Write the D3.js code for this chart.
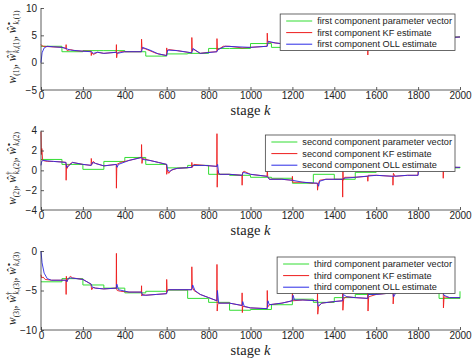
<!DOCTYPE html>
<html>
<head>
<meta charset="utf-8">
<script src="https://cdn.jsdelivr.net/npm/d3@7"></script>
<style>
  body { margin: 0; background: #fff; }
  .tick text { font-family: "Liberation Sans", Arial, sans-serif; font-size: 10px; fill: #222; }
  .axisLabel { font-family: "Liberation Serif", "Times New Roman", serif; fill: #222; }
  .legendText { font-family: "Liberation Sans", Arial, sans-serif; font-size: 9.2px; fill: #222; }
</style>
</head>
<body>
<div id="chart"></div>
<script>
// DATA - values

const stepK = [0,100,200,300,400,500,600,700,800,900,1000,1100,1200,1300,1400,1500,1600,1700,1800,1900,2000];

// component 1
const param1 = [3.0,2.0,2.2,2.2,2.0,1.2,1.6,1.7,2.6,2.6,3.5,2.8,3.6,4.0,3.2,3.8,4.2,4.6,3.6,4.7,4.7];
const kf1 = [[0,3.3],[2,3.2],[10,3.0],[50,2.9],[100,2.8],[119,2.6],[120,3.3],[121,2.4],[125,2.2],[140,2.4],[160,2.2],[200,2.1],[239,2.1],[240,1.3],[242,1.8],[250,1.5],[270,1.9],[300,1.7],[330,1.8],[359,1.9],[360,3.3],[361,0.9],[364,1.8],[380,2.0],[420,2.0],[479,2.0],[480,4.3],[482,2.7],[500,2.5],[550,1.7],[599,1.3],[600,2.7],[602,2.1],[610,2.4],[650,2.2],[700,1.9],[719,1.8],[720,4.6],[722,2.2],[730,2.4],[760,1.7],[800,1.9],[839,2.0],[840,4.4],[842,2.3],[870,3.0],[900,3.0],[960,2.7],[1000,2.8],[1079,3.0],[1080,5.4],[1082,3.8],[1100,3.7],[1140,3.5],[1200,3.3],[1300,3.5],[1400,3.7],[1500,3.9],[1559,3.8],[1560,1.4],[1562,3.6],[1600,4.0],[1700,4.3],[1800,4.2],[1900,4.5],[2000,4.7]];
const oll1 = [[0,0.0],[5,1.8],[15,2.7],[30,3.0],[60,2.9],[100,2.8],[120,2.6],[125,2.5],[140,2.3],[200,2.1],[240,2.0],[250,1.7],[270,1.9],[300,1.7],[360,1.9],[365,1.7],[400,2.0],[480,2.0],[485,2.8],[520,2.3],[560,1.6],[600,1.3],[605,2.3],[650,2.2],[720,1.8],[725,2.6],[760,1.7],[840,2.0],[845,2.4],[880,3.0],[1000,2.8],[1080,3.0],[1085,3.9],[1120,3.6],[1200,3.3],[1300,3.5],[1400,3.7],[1500,3.9],[1600,4.0],[1700,4.3],[1800,4.2],[1900,4.5],[2000,4.7]];

// component 2
const param2 = [1.1,0.6,0.1,0.9,1.3,0.6,0.25,0.5,-0.4,-0.5,-0.7,-0.8,-1.3,-0.4,-0.9,-0.2,-0.1,0.1,0.4,0.25,0.35];
const kf2 = [[0,3.9],[2,1.6],[4,2.2],[8,1.0],[30,0.9],[60,0.9],[100,0.85],[119,0.8],[120,-1.0],[122,0.6],[125,0.2],[130,0.5],[150,0.8],[200,0.6],[239,0.5],[240,1.2],[243,0.6],[250,0.9],[260,0.7],[300,0.45],[359,0.6],[360,-1.8],[362,0.6],[380,0.8],[420,1.0],[479,1.3],[480,2.6],[482,0.7],[485,1.2],[520,1.0],[560,0.8],[599,0.6],[600,-0.4],[603,0.0],[610,-0.3],[620,0.0],[650,0.2],[719,0.3],[720,0.8],[722,0.3],[730,0.6],[780,0.5],[839,0.4],[840,3.7],[841,-1.7],[843,0.0],[850,-0.4],[900,-0.4],[959,-0.5],[960,-1.5],[962,-0.2],[970,-0.1],[1000,-0.4],[1079,-0.6],[1080,0.3],[1082,-0.6],[1090,-0.9],[1150,-0.9],[1199,-1.0],[1200,-0.6],[1202,-1.2],[1250,-1.2],[1300,-1.3],[1319,-1.3],[1320,-2.0],[1323,-1.4],[1330,-1.0],[1360,-0.9],[1400,-0.9],[1439,-0.9],[1440,-2.7],[1441,0.3],[1443,-1.0],[1450,-0.7],[1500,-0.7],[1559,-0.6],[1560,-1.1],[1562,-0.5],[1600,-0.5],[1679,-0.6],[1680,-1.5],[1682,-0.3],[1690,-0.6],[1750,-0.5],[1799,-0.5],[1800,0.6],[1850,0.4],[1919,0.3],[1920,-0.8],[1922,0.3],[2000,0.3]];
const oll2 = [[0,0.5],[3,0.9],[10,1.0],[60,0.9],[119,0.8],[122,0.3],[130,0.4],[150,0.8],[200,0.6],[240,0.5],[245,0.8],[260,0.7],[300,0.45],[360,0.6],[363,0.3],[370,0.6],[420,1.0],[480,1.3],[485,1.1],[520,1.0],[560,0.8],[600,0.6],[605,0.0],[615,-0.1],[630,0.1],[650,0.2],[720,0.3],[725,0.5],[780,0.5],[840,0.4],[843,0.6],[848,-0.3],[855,-0.4],[900,-0.4],[960,-0.5],[965,-0.2],[1000,-0.4],[1080,-0.6],[1090,-0.9],[1150,-0.9],[1200,-1.0],[1250,-1.2],[1320,-1.3],[1325,-1.6],[1330,-1.1],[1360,-0.9],[1440,-0.9],[1445,-0.8],[1500,-0.7],[1600,-0.5],[1680,-0.6],[1750,-0.5],[1800,-0.5],[1805,0.5],[1850,0.4],[2000,0.3]];

// component 3
const param3 = [-3.9,-3.5,-4.3,-4.7,-5.3,-5.1,-4.95,-6.0,-6.5,-7.5,-7.4,-6.8,-6.1,-6.5,-5.9,-5.5,-5.3,-5.0,-5.2,-6.0,-5.1];
const kf3 = [[0,-3.0],[3,-3.4],[10,-3.3],[20,-3.6],[50,-3.7],[100,-3.7],[119,-3.7],[120,-5.5],[121,-3.2],[123,-3.9],[130,-3.5],[140,-3.2],[150,-3.4],[200,-3.6],[239,-4.2],[240,-4.5],[242,-4.9],[250,-4.6],[260,-4.7],[300,-4.8],[359,-4.7],[360,-0.3],[361,-4.8],[364,-5.0],[380,-5.1],[420,-5.2],[479,-5.2],[480,-4.4],[481,-5.7],[484,-5.5],[500,-5.6],[550,-5.5],[599,-5.4],[600,-3.6],[602,-5.1],[610,-4.9],[650,-4.9],[719,-4.9],[720,-2.0],[722,-4.5],[730,-5.0],[760,-5.5],[800,-5.9],[839,-6.3],[840,-1.7],[841,-7.6],[843,-6.8],[850,-6.6],[900,-6.6],[959,-6.9],[960,-5.3],[961,-7.8],[963,-7.0],[1000,-7.2],[1079,-7.3],[1080,-5.0],[1082,-7.1],[1090,-6.8],[1150,-6.6],[1199,-6.3],[1200,-5.0],[1202,-6.3],[1250,-6.2],[1319,-6.3],[1320,-5.1],[1321,-8.0],[1325,-7.0],[1340,-6.6],[1400,-6.4],[1439,-6.3],[1440,-5.1],[1441,-7.5],[1445,-6.0],[1460,-5.8],[1500,-5.9],[1559,-6.0],[1560,-5.2],[1561,-7.6],[1564,-5.8],[1600,-5.5],[1679,-5.3],[1680,-4.6],[1681,-6.7],[1684,-5.5],[1700,-5.0],[1800,-4.8],[1900,-5.0],[1919,-5.2],[1920,-4.6],[1921,-7.2],[1924,-5.8],[1950,-5.9],[2000,-5.9]];
const oll3 = [[0,0.0],[5,-1.5],[15,-2.8],[30,-3.5],[50,-3.7],[100,-3.7],[120,-3.7],[123,-3.9],[130,-3.5],[140,-3.4],[200,-3.6],[240,-4.2],[245,-4.6],[260,-4.7],[300,-4.8],[360,-4.7],[362,-4.2],[370,-4.9],[420,-5.2],[480,-5.2],[485,-5.6],[500,-5.6],[550,-5.5],[600,-5.4],[604,-5.0],[610,-4.9],[720,-4.9],[724,-4.3],[735,-5.0],[760,-5.5],[800,-5.9],[840,-6.3],[842,-5.0],[848,-6.6],[900,-6.6],[960,-6.9],[963,-6.4],[970,-7.0],[1000,-7.2],[1080,-7.3],[1083,-6.3],[1090,-6.8],[1150,-6.6],[1200,-6.3],[1203,-5.6],[1210,-6.2],[1250,-6.2],[1320,-6.3],[1323,-7.0],[1340,-6.6],[1400,-6.4],[1440,-6.3],[1443,-5.5],[1460,-5.8],[1500,-5.9],[1560,-6.0],[1563,-5.5],[1600,-5.5],[1680,-5.3],[1683,-5.8],[1700,-5.0],[1800,-4.8],[1900,-5.0],[1920,-5.2],[1923,-5.6],[1950,-5.9],[2000,-5.9]];

const xTicks = [0,200,400,600,800,1000,1200,1400,1600,1800,2000];
const names = ["first", "second", "third"];

// SET UP

const width = 474, height = 361;
const svg = d3.select("#chart").append("svg")
    .attr("width", width)
    .attr("height", height);

const xScale = d3.scaleLinear().domain([0, 2000]).range([41, 460]);

const panels = [
    {idx: 1, param: param1, kf: kf1, oll: oll1, domain: [-5, 10], top: 8, bottom: 90, yTicks: [-5,0,5,10], legTop: 14},
    {idx: 2, param: param2, kf: kf2, oll: oll2, domain: [-4, 4], top: 130.7, bottom: 210, yTicks: [-4,-2,0,2,4], legTop: 135},
    {idx: 3, param: param3, kf: kf3, oll: oll3, domain: [-10, 0], top: 251, bottom: 330, yTicks: [-10,-5,0], legTop: 257}
];

const colors = {param: "#33dd33", kf: "#ee1c1c", oll: "#2a2ae6"};

panels.forEach(function(p, i) {

    const yScale = d3.scaleLinear().domain(p.domain).range([p.bottom, p.top]);
    const g = svg.append("g");

    // LINES
    const line = d3.line()
        .x(function(d) { return xScale(d[0]); })
        .y(function(d) { return yScale(d[1]); });

    g.append("path")
        .datum(stepK.map(function(k, j) { return [k, p.param[j]]; }))
        .attr("fill", "none")
        .attr("stroke", colors.param)
        .attr("stroke-width", 1)
        .attr("d", line.curve(d3.curveStepAfter));

    line.curve(d3.curveLinear);

    g.append("path")
        .datum(p.kf)
        .attr("fill", "none")
        .attr("stroke", colors.kf)
        .attr("stroke-width", 0.9)
        .attr("d", line);

    g.append("path")
        .datum(p.oll)
        .attr("fill", "none")
        .attr("stroke", colors.oll)
        .attr("stroke-width", 0.9)
        .attr("d", line);

    // AXES
    const xAxis = g.append("g")
        .attr("transform", `translate(0,${p.bottom})`)
        .call(d3.axisBottom(xScale).tickValues(xTicks).tickSize(-3).tickPadding(2).tickFormat(d3.format("d")));

    const yAxis = g.append("g")
        .attr("transform", `translate(${xScale(0)},0)`)
        .call(d3.axisLeft(yScale).tickValues(p.yTicks).tickSize(-3).tickPadding(4));

    g.selectAll(".domain").attr("stroke", "#333").attr("stroke-width", 0.8);
    g.selectAll(".tick line").attr("stroke", "#333").attr("stroke-width", 0.8);
    xAxis.selectAll(".domain").attr("d", `M${xScale(0)},0H${xScale(2000)}`);
    yAxis.selectAll(".domain").attr("d", `M0,${p.bottom}V${p.top}`);

    // X LABEL
    const xl = g.append("text")
        .attr("class", "axisLabel")
        .attr("x", (xScale(0) + xScale(2000)) / 2)
        .attr("y", p.bottom + 24.5)
        .attr("text-anchor", "middle")
        .style("font-size", "14.5px");
    xl.append("tspan").text("stage ");
    xl.append("tspan").style("font-style", "italic").text("k");

    // Y LABEL
    const sub = "(" + p.idx + ")";
    const yl = g.append("text")
        .attr("class", "axisLabel")
        .attr("transform", `translate(16,${(p.top + p.bottom) / 2 - 2}) rotate(-90)`)
        .attr("text-anchor", "middle")
        .style("font-size", "11.5px");
    yl.append("tspan").style("font-style", "italic").text("w");
    yl.append("tspan").attr("dy", 2.5).style("font-size", "7.5px").text(sub);
    yl.append("tspan").attr("dy", -2.5).text(", ");
    yl.append("tspan").style("font-style", "italic").text("ŵ");
    yl.append("tspan").attr("dy", -4.5).style("font-size", "7.5px").text("†");
    yl.append("tspan").attr("dx", -3).attr("dy", 7).style("font-size", "7.5px").style("font-style", "italic").text("k");
    yl.append("tspan").style("font-size", "7.5px").text("," + sub);
    yl.append("tspan").attr("dy", -2.5).text(", ");
    yl.append("tspan").style("font-style", "italic").text("ŵ");
    yl.append("tspan").attr("dy", -4.5).style("font-size", "7.5px").text("∘");
    yl.append("tspan").attr("dx", -4).attr("dy", 7).style("font-size", "7.5px").style("font-style", "italic").text("k");
    yl.append("tspan").style("font-size", "7.5px").text("," + sub);

    // LEGEND
    const labels = [
        names[i] + " component parameter vector",
        names[i] + " component KF estimate",
        names[i] + " component OLL estimate"
    ];
    const lineColors = [colors.param, colors.kf, colors.oll];

    const leg = g.append("g");
    const box = leg.append("rect")
        .attr("fill", "#fff")
        .attr("stroke", "#444")
        .attr("stroke-width", 0.8);

    const texts = leg.selectAll("text")
        .data(labels)
        .enter()
        .append("text")
        .attr("class", "legendText")
        .attr("y", function(d, j) { return p.legTop + 7 + j * 11.6; })
        .attr("dy", "0.35em")
        .text(function(d) { return d; });

    let maxLen = 0;
    texts.each(function() { maxLen = Math.max(maxLen, this.getComputedTextLength()); });
    const right = 455;
    const left = right - 3 - maxLen - 37;

    texts.attr("x", left + 37);
    box.attr("x", left)
        .attr("y", p.legTop)
        .attr("width", right - left)
        .attr("height", 36.5);

    leg.selectAll("line")
        .data(lineColors)
        .enter()
        .append("line")
        .attr("x1", left + 6)
        .attr("x2", left + 32)
        .attr("y1", function(d, j) { return p.legTop + 7 + j * 11.6; })
        .attr("y2", function(d, j) { return p.legTop + 7 + j * 11.6; })
        .attr("stroke", function(d) { return d; })
        .attr("stroke-width", 1);
});
</script>
</body>
</html>
